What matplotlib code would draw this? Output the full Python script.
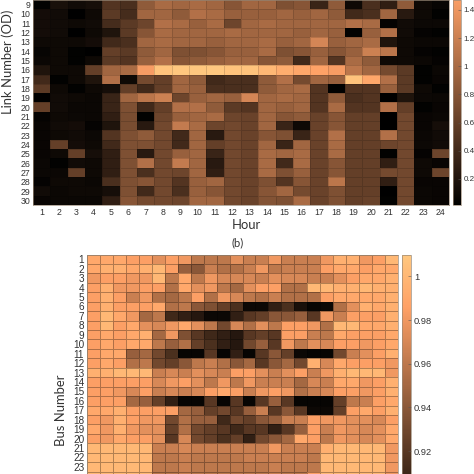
import numpy as np
import matplotlib
matplotlib.use('Agg')
import matplotlib.pyplot as plt

hours = list(range(1, 25))
link_numbers = list(range(9, 31))
bus_numbers = list(range(1, 25))

# top map, one row per link (9 to 30)
link_values = [
    [.03,.16,.12,.15,.50,.45,.85,1.0,.95,1.0,.95,.80,.95,.95,.75,.80,.35,.85,.10,.45,.30,.85,.10,.06],
    [.13,.12,.02,.10,.55,.42,.95,.95,.85,1.05,1.0,.90,.90,.90,.95,.90,.95,.85,.40,.45,.95,.25,.10,.03],
    [.13,.12,.10,.12,.42,.55,.65,1.05,1.0,.90,1.0,.65,.95,1.0,.95,.95,.95,.95,1.05,1.0,.05,.12,.09,.09],
    [.13,.12,.02,.10,.20,.55,.80,1.0,.95,.95,.95,1.0,.95,.95,.95,.90,.95,.90,.03,.90,1.05,.12,.05,.03],
    [.10,.10,.10,.13,.40,.45,.95,1.0,.95,.95,.90,.95,.95,1.0,.90,.95,1.25,.90,.95,1.0,.20,.10,.08,.08],
    [.06,.10,.03,.02,.60,.55,.85,.95,.75,.75,.80,.90,.90,1.0,.75,.80,.90,.80,.90,1.2,1.1,.10,.05,.03],
    [.08,.10,.03,.10,.55,.50,.90,1.05,.80,.85,.90,.95,.95,.80,.85,.40,.95,.50,1.0,.85,.10,.10,.08,.05],
    [.20,.10,.10,.60,.95,1.0,1.45,1.8,1.9,1.85,1.9,1.8,1.8,1.7,1.6,1.55,1.5,1.45,1.1,.95,.70,.55,.03,.08],
    [.40,.03,.10,.20,1.05,.10,.70,.60,.95,.85,.40,.45,.45,.85,1.05,.70,.95,.90,1.8,1.55,1.05,.55,.03,.07],
    [.55,.10,.03,.10,.15,.60,.40,.60,.95,.90,.45,.45,.45,.85,.95,1.0,.50,.03,.50,.50,.90,.55,.10,.03],
    [.02,.12,.10,.08,.35,.95,1.1,1.2,.65,.90,.95,.90,1.25,.95,1.0,.95,.50,.85,.45,.50,.02,.20,.09,.08],
    [.60,.12,.08,.08,.35,.75,.40,.60,1.05,1.05,.85,.55,.50,.95,.90,.95,.50,1.0,.50,.50,1.05,.60,.03,.07],
    [.05,.10,.09,.08,.30,.72,.03,.65,.90,.95,1.0,.65,.63,.95,.80,.85,.62,.80,.60,.60,.02,.68,.07,.08],
    [.07,.12,.13,.05,.20,.72,.25,.68,1.15,1.0,.65,.68,.63,.95,.35,.10,.63,.80,.60,.60,.02,.68,.07,.15],
    [.07,.10,.12,.09,.50,.75,.85,.68,.40,.95,.25,.68,.63,.80,.75,.35,.63,1.05,.60,.60,1.05,.68,.08,.12],
    [.07,.60,.13,.10,.40,.75,.75,.68,.40,.95,.60,.68,.63,.95,.35,.95,.63,1.0,.60,.60,.65,.68,.09,.12],
    [.07,.10,.60,.15,.30,.75,.25,.68,.90,.95,.35,.68,.63,1.0,.95,1.0,.63,1.0,.60,.60,.03,.68,.05,.65],
    [.08,.03,.12,.10,.30,.75,1.05,.68,1.15,.95,.25,.68,.63,1.0,.40,1.0,.63,.80,.60,.60,.30,.68,.10,.07],
    [.08,.08,.60,.10,.30,.75,.45,.68,.65,.95,.30,.68,.63,1.0,.75,.90,.63,.80,.60,.60,.70,.68,.10,.65],
    [.05,.10,.10,.08,.45,.75,.80,.68,.50,.90,.95,.68,.63,.75,.50,.80,.63,1.1,.60,.60,.30,.68,.07,.07],
    [.12,.08,.10,.10,.15,.75,.40,.68,.45,.90,.80,.68,.63,.80,.95,.70,.63,.75,.60,.60,.02,.68,.08,.07],
    [.07,.08,.08,.08,.30,.80,.70,.68,.65,.95,.95,.68,.63,.78,.75,1.0,.63,.75,.60,.62,.03,.68,.08,.07],
]

# bottom map, one row per bus (1 to 24)
bus_values = [
    [.99,.99,.99,.985,.985,.975,.985,.98,.96,.96,.96,.975,.965,.965,.98,.965,.965,.965,.98,.995,.995,.98,.985,1.0],
    [.99,.995,.995,.99,.995,1.0,.985,.945,.94,.965,.955,.955,.965,.98,.96,.965,.965,.965,.985,.99,.99,.985,.99,.99],
    [.98,.985,.985,.98,.98,1.0,.96,.99,.96,.98,.97,.97,.97,.965,.975,.97,.97,.965,.965,.975,.985,.99,.99,.995],
    [.985,.995,.98,.98,.985,.985,.955,.99,.975,.98,.96,.95,.975,.985,.985,.955,.955,1.0,1.0,.995,.995,1.0,.995,.995],
    [.985,.995,.985,.965,.98,.955,.95,.96,.985,.955,.98,.97,.96,.955,.965,.955,.955,.955,.985,.99,.99,.99,.99,.995],
    [.985,.995,.985,.985,.985,.99,.955,.96,.94,.935,.925,.915,.89,.89,.905,.915,.895,.888,.89,.955,.975,.995,.99,.995],
    [.985,1.0,.99,.98,.95,.96,.91,.905,.90,.89,.89,.905,.92,.925,.94,.94,.945,.92,.98,.965,.985,.985,.985,.995],
    [.985,1.0,.985,.99,.975,.97,.98,.99,.975,.96,.93,.97,.955,.975,.96,.985,.985,.98,.955,1.0,1.0,.99,.99,.995],
    [.985,.99,.985,.99,.995,.95,.98,.935,.92,.91,.905,.90,.92,.925,.92,.985,.985,.965,.96,.99,.985,.985,.985,.99],
    [.985,.99,.985,.99,.99,.96,.945,.955,.925,.915,.905,.90,.93,.945,.92,.98,.96,.975,.97,.985,.985,.98,.985,.99],
    [.985,.99,.99,.945,.95,.93,.915,.888,.888,.92,.888,.905,.888,.92,.94,.925,.89,.888,.888,.93,.965,.975,.985,.995],
    [.985,.99,.985,.955,.96,.93,.925,.94,.96,.965,.955,.94,.95,.92,.94,.95,.93,.995,.97,.99,.985,.985,.985,.98],
    [.995,.995,1.0,1.0,1.0,.965,.97,.965,.975,.97,.965,.985,.985,.975,.965,.975,.985,.965,.98,.995,1.0,1.0,1.0,.98],
    [.985,.985,.985,.985,.985,.97,.98,.985,.975,.96,.98,.96,.98,.965,.965,.965,.95,.97,.965,.99,.99,.98,.985,.995],
    [.985,.985,.98,.97,.985,.965,.97,.965,.97,.985,.99,.985,.965,.98,.985,.98,.955,.965,.97,.985,.985,.98,.985,.995],
    [.985,.985,.985,.95,.945,.925,.905,.888,.888,.92,.888,.92,.888,.92,.945,.92,.888,.888,.888,.925,.96,.965,.985,.99],
    [.99,.99,.995,.985,.985,.985,.985,.95,.945,.925,.93,.92,.945,.965,.92,.94,.92,.89,.89,.925,.985,.99,.985,.995],
    [.985,.98,.995,.985,.98,.98,.93,.955,.945,.945,.91,.93,.925,.94,.945,.965,.965,.985,.98,.98,.975,.975,.97,.985],
    [.99,.98,.995,.98,.975,.975,.925,.955,.93,.925,.92,.91,.92,.92,.905,.92,.945,.985,.965,.98,.975,.97,.975,.99],
    [.985,.98,.99,.985,.985,.975,.92,.97,.93,.925,.915,.925,.905,.93,.94,.95,.99,.985,.96,.98,.975,.97,.975,.99],
    [1.0,1.0,1.0,1.0,1.0,.965,.965,.97,.965,.965,.965,.965,.965,.965,.98,.965,.965,.965,.995,1.0,1.0,1.0,1.0,.98],
    [1.0,1.0,1.0,1.0,1.0,.96,.96,.965,.96,.96,.96,.96,.965,.965,.965,.965,.965,.96,1.0,1.0,1.0,1.0,1.0,.98],
    [1.0,1.0,1.0,1.0,1.0,.96,.96,.965,.96,.96,.96,.96,.96,.96,.965,.96,.96,.96,1.0,1.0,1.0,1.0,1.0,.98],
    [1.0,1.0,1.0,1.0,1.0,.96,.96,.965,.96,.96,.96,.96,.96,.96,.965,.96,.96,.985,1.0,1.0,1.0,1.0,1.0,.98],
]

link_ticks = [0.2, 0.4, 0.6, 0.8, 1, 1.2, 1.4]
bus_ticks = [0.92, 0.94, 0.96, 0.98, 1]

W = H = 474.0
tick_font = 'Liberation Sans'
label_font = 'Lato'
text_col = '#333333'

def box(left, top, right, bottom):
    # pixel box of the picture into figure fractions
    return [left / W, 1 - bottom / H, (right - left) / W, (bottom - top) / H]

def heat(ax, cax, rows, values, vmin, vmax, show, cbar_lim, cbar_ticks, size, grid):
    mesh = ax.pcolormesh(hours, rows, np.array(values), shading='nearest', cmap='copper',
                         vmin=vmin, vmax=vmax, edgecolor=(0, 0, 0, grid), linewidth=0.5)
    ax.set_ylim(*show)
    ax.set_xticks(hours)
    ax.set_yticks([r for r in rows if show[1] <= r <= show[0]])
    ax.tick_params(length=0, labelsize=size, labelcolor=text_col, pad=2)
    for t in ax.get_xticklabels() + ax.get_yticklabels():
        t.set_fontfamily(tick_font)
    for s in ax.spines.values():
        s.set_linewidth(0.5)
        s.set_color('#9a8a78')

    cb = plt.colorbar(mesh, cax=cax)
    cb.ax.set_ylim(*cbar_lim)
    cb.set_ticks(cbar_ticks, labels=[f'{v:g}' for v in cbar_ticks])
    cb.ax.tick_params(direction='in', length=2, width=0.4, color='#555555', labelsize=size - 0.5,
                      labelcolor=text_col, pad=2)
    for t in cb.ax.get_yticklabels():
        t.set_fontfamily(tick_font)
    cb.outline.set_linewidth(0.5)
    cb.outline.set_edgecolor('#9a8a78')

fig = plt.figure(figsize=(4.74, 4.74), dpi=100)

ax1 = fig.add_axes(box(33, 0, 449, 205))
cax1 = fig.add_axes(box(453, 0, 460.5, 205))
heat(ax1, cax1, link_numbers, link_values, 0.015, 1.85, (30.5, 8.5), (0.015, 1.47), link_ticks, 6.3, 0.14)

ax2 = fig.add_axes(box(87, 254.5, 398, 474))
cax2 = fig.add_axes(box(402, 254.5, 411, 474))
heat(ax2, cax2, bus_numbers, bus_values, 0.885, 1.01, (23.75, 0.5), (0.9095, 1.01), bus_ticks, 7.2, 0.3)
# the picture stops before the hour labels of this map
ax2.tick_params(labelbottom=False)

fig.text(7.5 / W, 1 - 62 / H, 'Link Number (OD)', rotation=90, ha='center', va='center',
         fontsize=9.4, family=label_font, color='#333333')
fig.text(246 / W, 1 - 225 / H, 'Hour', ha='center', va='center', fontsize=9.4,
         family=label_font, color='#333333')
fig.text(238 / W, 1 - 243 / H, '(b)', ha='center', va='center', fontsize=8,
         family=label_font, color='#333333')
fig.text(61 / W, 1 - 410 / H, 'Bus Number', rotation=90, ha='center', va='center',
         fontsize=9.4, family=label_font, color='#333333')

fig.savefig('out.png', dpi=100)
